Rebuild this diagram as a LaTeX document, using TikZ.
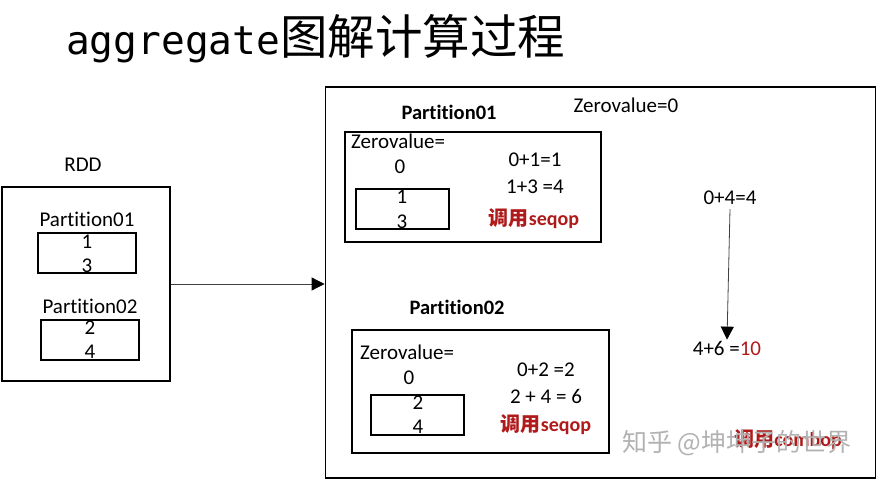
\documentclass[tikz,border=0pt]{standalone}
\usepackage{fontspec}
\setmainfont{Carlito}[Ligatures={NoCommon}]
\newfontfamily\cjk{Noto Sans CJK SC}
\newfontfamily\monof{DejaVu Sans Mono}
\usetikzlibrary{arrows.meta}
\definecolor{dred}{HTML}{B01A1A}
\begin{document}
\begin{tikzpicture}[x=1pt,y=-1pt,
  box/.style={draw=black,line width=1.8pt,inner sep=0pt},
  txt/.style={inner sep=1pt,font=\fontsize{21}{24}\selectfont},
  btxt/.style={inner sep=1pt,font=\fontsize{20.5}{24}\selectfont\bfseries},
  rtxt/.style={inner sep=1pt,text=dred,font=\fontsize{20}{24}\selectfont\bfseries},
  arr/.style={draw=black!75,line width=0.8pt,-{Triangle[length=13pt,width=13pt,color=black,fill=black]}}]
\useasboundingbox (0,0) rectangle (878,481);
% title
\node[inner sep=0pt,anchor=base west] (title) at (66,55)
  {{\monof\fontsize{39.5}{44}\selectfont aggregate}{\cjk\fontsize{47.5}{50}\selectfont 图解计算过程}};
% RDD
\node[txt] (rddlbl) at (83,165) {RDD};
\node[box,minimum width=168pt,minimum height=194pt] (rdd) at (86,284) {};
\node[txt] (rp1) at (87,219) {Partition01};
\node[box,minimum width=98pt,minimum height=40pt] (rb1) at (87,253) {};
\node[txt] (rb1a) at (87,242) {1};
\node[txt] (rb1b) at (87,266) {3};
\node[txt] (rp2) at (90,306) {Partition02};
\node[box,minimum width=98pt,minimum height=40pt] (rb2) at (90,340) {};
\node[txt] (rb2a) at (90,328) {2};
\node[txt] (rb2b) at (90,352) {4};
% big box
\node[box,minimum width=550pt,minimum height=391pt] (big) at (600.5,282.5) {};
\draw[arr] (rdd.east) -- (rdd.east -| big.west);
\node[btxt] (bp1) at (449,112) {Partition01};
\node[txt] (zv) at (626,105) {Zerovalue=0};
% P1
\node[box,minimum width=256pt,minimum height=110pt] (p1) at (473,187) {};
\node[txt,anchor=west] (p1z) at (350,141) {Zerovalue=};
\node[txt] (p1zero) at (400,167) {0};
\node[box,minimum width=93pt,minimum height=40pt] (p1b) at (402.5,209) {};
\node[txt] (p1ba) at (402,197) {1};
\node[txt] (p1bb) at (402,222) {3};
\node[txt] (p1e1) at (535,160) {0+1=1};
\node[txt] (p1e2) at (535,187) {1+3 =4};
\node[rtxt] (p1s) at (534,219) {{\cjk 调用}seqop};
% P2
\node[btxt] (bp2) at (457,307) {Partition02};
\node[box,minimum width=257pt,minimum height=123pt] (p2) at (480.5,391.5) {};
\node[txt,anchor=west] (p2z) at (359,352) {Zerovalue=};
\node[txt] (p2zero) at (409,378) {0};
\node[box,minimum width=93pt,minimum height=40pt] (p2b) at (417.5,415) {};
\node[txt] (p2ba) at (418,403) {2};
\node[txt] (p2bb) at (418,427) {4};
\node[txt] (p2e1) at (546,370) {0+2 =2};
\node[txt] (p2e2) at (546,396) {2 + 4 = 6};
\node[rtxt] (p2s) at (546,425) {{\cjk 调用}seqop};
% combine
\node[txt,inner sep=4pt] (c1) at (730,198) {0+4=4};
\node[txt,inner sep=1pt] (c2) at (727,348) {4+6 =\textcolor{dred}{10}};
\draw[arr] (c1.south) -- (c2.north);
\node[rtxt] (comb) at (788,440) {{\cjk 调用}combop};
\node[inner sep=0pt,text=black!30,font=\cjk\fontsize{25}{28}\selectfont] (wm) at (737,443) {知乎 @坤坤子的世界};
\end{tikzpicture}
\end{document}
